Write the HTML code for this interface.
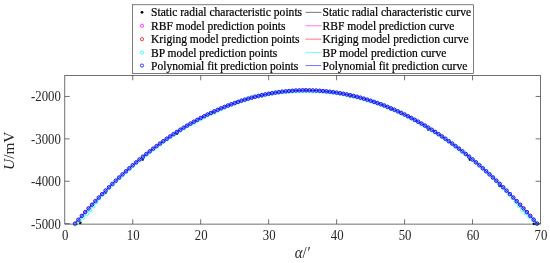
<!DOCTYPE html><html><head><meta charset="utf-8"><title>Plot</title><style>html,body{margin:0;padding:0;background:#fff}</style></head><body><svg width="550" height="263" viewBox="0 0 550 263" style="display:block;font-family:'Liberation Serif',serif">
<rect width="550" height="263" fill="#fff"/>
<clipPath id="c"><rect x="64.8" y="75.4" width="475.7" height="151.2"/></clipPath>
<g clip-path="url(#c)" fill="none">
<circle cx="80.23" cy="222.74" r="1.4" fill="#000"/>
<circle cx="105.57" cy="192.58" r="1.4" fill="#000"/>
<circle cx="142.68" cy="159.38" r="1.4" fill="#000"/>
<circle cx="176.93" cy="133.65" r="1.4" fill="#000"/>
<circle cx="214.31" cy="112.83" r="1.4" fill="#000"/>
<circle cx="261.88" cy="96.05" r="1.4" fill="#000"/>
<circle cx="305.37" cy="89.91" r="1.4" fill="#000"/>
<circle cx="350.22" cy="96.26" r="1.4" fill="#000"/>
<circle cx="390.99" cy="109.62" r="1.4" fill="#000"/>
<circle cx="428.37" cy="129.38" r="1.4" fill="#000"/>
<circle cx="469.96" cy="159.53" r="1.4" fill="#000"/>
<circle cx="499.73" cy="185.89" r="1.4" fill="#000"/>
<circle cx="533.98" cy="223.85" r="1.4" fill="#000"/>
<polyline points="74.99,223.62 78.39,219.72 81.79,215.89 85.19,212.11 88.58,208.40 91.98,204.74 95.38,201.13 98.78,197.59 102.18,194.10 105.57,190.67 108.97,187.30 112.37,183.98 115.77,180.72 119.17,177.53 122.56,174.38 125.96,171.30 129.36,168.27 132.76,165.30 136.15,162.39 139.55,159.54 142.95,156.74 146.35,154.00 149.75,151.32 153.14,148.70 156.54,146.14 159.94,143.63 163.34,141.18 166.74,138.79 170.13,136.45 173.53,134.17 176.93,131.95 180.33,129.79 183.72,127.69 187.12,125.64 190.52,123.65 193.92,121.72 197.32,119.85 200.71,118.03 204.11,116.27 207.51,114.57 210.91,112.93 214.31,111.34 217.70,109.82 221.10,108.35 224.50,106.93 227.90,105.58 231.29,104.28 234.69,103.04 238.09,101.86 241.49,100.74 244.89,99.67 248.28,98.66 251.68,97.71 255.08,96.82 258.48,95.98 261.88,95.20 265.27,94.48 268.67,93.82 272.07,93.21 275.47,92.67 278.87,92.18 282.26,91.74 285.66,91.37 289.06,91.05 292.46,90.79 295.85,90.59 299.25,90.45 302.65,90.36 306.05,90.33 309.45,90.36 312.84,90.45 316.24,90.59 319.64,90.79 323.04,91.05 326.44,91.37 329.83,91.74 333.23,92.18 336.63,92.67 340.03,93.21 343.42,93.82 346.82,94.48 350.22,95.20 353.62,95.98 357.02,96.82 360.41,97.71 363.81,98.66 367.21,99.67 370.61,100.74 374.00,101.86 377.40,103.04 380.80,104.28 384.20,105.58 387.60,106.93 390.99,108.35 394.39,109.82 397.79,111.34 401.19,112.93 404.59,114.57 407.98,116.27 411.38,118.03 414.78,119.85 418.18,121.72 421.57,123.65 424.97,125.64 428.37,127.69 431.77,129.79 435.17,131.95 438.56,134.17 441.96,136.45 445.36,138.79 448.76,141.18 452.16,143.63 455.55,146.14 458.95,148.70 462.35,151.32 465.75,154.00 469.14,156.74 472.54,159.54 475.94,162.39 479.34,165.30 482.74,168.27 486.13,171.30 489.53,174.38 492.93,177.53 496.33,180.72 499.73,183.98 503.12,187.30 506.52,190.67 509.92,194.10 513.32,197.59 516.71,201.13 520.11,204.74 523.51,208.40 526.91,212.11 530.31,215.89 533.70,219.72 537.10,223.62" stroke="#000" stroke-width="0.45"/>
<g stroke="#ff00ff" stroke-width="0.45" fill="none"><circle cx="75.00" cy="223.63" r="1.45"/><circle cx="78.41" cy="219.72" r="1.45"/><circle cx="81.80" cy="215.87" r="1.45"/><circle cx="85.20" cy="212.10" r="1.45"/><circle cx="88.57" cy="208.37" r="1.45"/><circle cx="92.00" cy="204.77" r="1.45"/><circle cx="95.40" cy="201.16" r="1.45"/><circle cx="98.76" cy="197.62" r="1.45"/><circle cx="102.13" cy="194.18" r="1.45"/><circle cx="105.53" cy="190.74" r="1.45"/><circle cx="108.93" cy="187.35" r="1.45"/><circle cx="112.31" cy="184.04" r="1.45"/><circle cx="115.71" cy="180.74" r="1.45"/><circle cx="119.15" cy="177.52" r="1.45"/><circle cx="122.52" cy="174.37" r="1.45"/><circle cx="125.93" cy="171.29" r="1.45"/><circle cx="129.34" cy="168.27" r="1.45"/><circle cx="132.76" cy="165.30" r="1.45"/><circle cx="136.17" cy="162.40" r="1.45"/><circle cx="139.54" cy="159.56" r="1.45"/><circle cx="142.94" cy="156.77" r="1.45"/><circle cx="146.34" cy="154.07" r="1.45"/><circle cx="149.68" cy="151.42" r="1.45"/><circle cx="153.06" cy="148.81" r="1.45"/><circle cx="156.45" cy="146.25" r="1.45"/><circle cx="159.88" cy="143.70" r="1.45"/><circle cx="163.26" cy="141.22" r="1.45"/><circle cx="166.59" cy="138.82" r="1.45"/><circle cx="170.02" cy="136.46" r="1.45"/><circle cx="173.42" cy="134.17" r="1.45"/><circle cx="176.80" cy="131.94" r="1.45"/><circle cx="180.24" cy="129.78" r="1.45"/><circle cx="183.64" cy="127.65" r="1.45"/><circle cx="187.04" cy="125.60" r="1.45"/><circle cx="190.42" cy="123.61" r="1.45"/><circle cx="193.77" cy="121.68" r="1.45"/><circle cx="197.20" cy="119.78" r="1.45"/><circle cx="200.60" cy="117.97" r="1.45"/><circle cx="204.03" cy="116.22" r="1.45"/><circle cx="207.48" cy="114.52" r="1.45"/><circle cx="210.91" cy="112.86" r="1.45"/><circle cx="214.35" cy="111.27" r="1.45"/><circle cx="217.74" cy="109.76" r="1.45"/><circle cx="221.16" cy="108.25" r="1.45"/><circle cx="224.56" cy="106.86" r="1.45"/><circle cx="227.95" cy="105.48" r="1.45"/><circle cx="231.29" cy="104.21" r="1.45"/><circle cx="234.70" cy="102.99" r="1.45"/><circle cx="238.10" cy="101.79" r="1.45"/><circle cx="241.47" cy="100.67" r="1.45"/><circle cx="244.87" cy="99.59" r="1.45"/><circle cx="248.28" cy="98.57" r="1.45"/><circle cx="251.66" cy="97.67" r="1.45"/><circle cx="255.10" cy="96.77" r="1.45"/><circle cx="258.49" cy="95.98" r="1.45"/><circle cx="261.93" cy="95.17" r="1.45"/><circle cx="265.35" cy="94.45" r="1.45"/><circle cx="268.70" cy="93.78" r="1.45"/><circle cx="272.12" cy="93.23" r="1.45"/><circle cx="275.48" cy="92.69" r="1.45"/><circle cx="278.93" cy="92.18" r="1.45"/><circle cx="282.33" cy="91.74" r="1.45"/><circle cx="285.74" cy="91.35" r="1.45"/><circle cx="289.17" cy="91.00" r="1.45"/><circle cx="292.56" cy="90.78" r="1.45"/><circle cx="295.90" cy="90.57" r="1.45"/><circle cx="299.34" cy="90.40" r="1.45"/><circle cx="302.69" cy="90.26" r="1.45"/><circle cx="306.10" cy="90.23" r="1.45"/><circle cx="309.48" cy="90.27" r="1.45"/><circle cx="312.85" cy="90.35" r="1.45"/><circle cx="316.24" cy="90.54" r="1.45"/><circle cx="319.64" cy="90.76" r="1.45"/><circle cx="323.04" cy="90.97" r="1.45"/><circle cx="326.44" cy="91.27" r="1.45"/><circle cx="329.76" cy="91.69" r="1.45"/><circle cx="333.16" cy="92.10" r="1.45"/><circle cx="336.54" cy="92.56" r="1.45"/><circle cx="339.92" cy="93.09" r="1.45"/><circle cx="343.32" cy="93.66" r="1.45"/><circle cx="346.72" cy="94.28" r="1.45"/><circle cx="350.08" cy="94.99" r="1.45"/><circle cx="353.48" cy="95.78" r="1.45"/><circle cx="356.91" cy="96.68" r="1.45"/><circle cx="360.34" cy="97.60" r="1.45"/><circle cx="363.76" cy="98.57" r="1.45"/><circle cx="367.21" cy="99.63" r="1.45"/><circle cx="370.63" cy="100.71" r="1.45"/><circle cx="374.02" cy="101.89" r="1.45"/><circle cx="377.41" cy="103.10" r="1.45"/><circle cx="380.83" cy="104.29" r="1.45"/><circle cx="384.26" cy="105.61" r="1.45"/><circle cx="387.64" cy="106.92" r="1.45"/><circle cx="391.05" cy="108.30" r="1.45"/><circle cx="394.44" cy="109.78" r="1.45"/><circle cx="397.81" cy="111.27" r="1.45"/><circle cx="401.19" cy="112.85" r="1.45"/><circle cx="404.61" cy="114.45" r="1.45"/><circle cx="408.00" cy="116.16" r="1.45"/><circle cx="411.38" cy="117.96" r="1.45"/><circle cx="414.77" cy="119.78" r="1.45"/><circle cx="418.15" cy="121.68" r="1.45"/><circle cx="421.57" cy="123.61" r="1.45"/><circle cx="425.00" cy="125.62" r="1.45"/><circle cx="428.39" cy="127.65" r="1.45"/><circle cx="431.77" cy="129.75" r="1.45"/><circle cx="435.20" cy="131.93" r="1.45"/><circle cx="438.59" cy="134.12" r="1.45"/><circle cx="442.00" cy="136.39" r="1.45"/><circle cx="445.37" cy="138.77" r="1.45"/><circle cx="448.75" cy="141.14" r="1.45"/><circle cx="452.14" cy="143.62" r="1.45"/><circle cx="455.53" cy="146.10" r="1.45"/><circle cx="458.92" cy="148.70" r="1.45"/><circle cx="462.34" cy="151.32" r="1.45"/><circle cx="465.69" cy="154.03" r="1.45"/><circle cx="469.09" cy="156.74" r="1.45"/><circle cx="472.48" cy="159.51" r="1.45"/><circle cx="475.93" cy="162.33" r="1.45"/><circle cx="479.38" cy="165.24" r="1.45"/><circle cx="482.76" cy="168.19" r="1.45"/><circle cx="486.16" cy="171.20" r="1.45"/><circle cx="489.55" cy="174.25" r="1.45"/><circle cx="492.94" cy="177.42" r="1.45"/><circle cx="496.36" cy="180.62" r="1.45"/><circle cx="499.76" cy="183.93" r="1.45"/><circle cx="503.13" cy="187.31" r="1.45"/><circle cx="506.48" cy="190.71" r="1.45"/><circle cx="509.86" cy="194.13" r="1.45"/><circle cx="513.27" cy="197.65" r="1.45"/><circle cx="516.68" cy="201.19" r="1.45"/><circle cx="520.07" cy="204.81" r="1.45"/><circle cx="523.50" cy="208.47" r="1.45"/><circle cx="526.88" cy="212.20" r="1.45"/><circle cx="530.29" cy="215.96" r="1.45"/><circle cx="533.74" cy="219.75" r="1.45"/><circle cx="537.16" cy="223.63" r="1.45"/><polyline points="75.00,223.63 78.41,219.72 81.80,215.87 85.20,212.10 88.57,208.37 92.00,204.77 95.40,201.16 98.76,197.62 102.13,194.18 105.53,190.74 108.93,187.35 112.31,184.04 115.71,180.74 119.15,177.52 122.52,174.37 125.93,171.29 129.34,168.27 132.76,165.30 136.17,162.40 139.54,159.56 142.94,156.77 146.34,154.07 149.68,151.42 153.06,148.81 156.45,146.25 159.88,143.70 163.26,141.22 166.59,138.82 170.02,136.46 173.42,134.17 176.80,131.94 180.24,129.78 183.64,127.65 187.04,125.60 190.42,123.61 193.77,121.68 197.20,119.78 200.60,117.97 204.03,116.22 207.48,114.52 210.91,112.86 214.35,111.27 217.74,109.76 221.16,108.25 224.56,106.86 227.95,105.48 231.29,104.21 234.70,102.99 238.10,101.79 241.47,100.67 244.87,99.59 248.28,98.57 251.66,97.67 255.10,96.77 258.49,95.98 261.93,95.17 265.35,94.45 268.70,93.78 272.12,93.23 275.48,92.69 278.93,92.18 282.33,91.74 285.74,91.35 289.17,91.00 292.56,90.78 295.90,90.57 299.34,90.40 302.69,90.26 306.10,90.23 309.48,90.27 312.85,90.35 316.24,90.54 319.64,90.76 323.04,90.97 326.44,91.27 329.76,91.69 333.16,92.10 336.54,92.56 339.92,93.09 343.32,93.66 346.72,94.28 350.08,94.99 353.48,95.78 356.91,96.68 360.34,97.60 363.76,98.57 367.21,99.63 370.63,100.71 374.02,101.89 377.41,103.10 380.83,104.29 384.26,105.61 387.64,106.92 391.05,108.30 394.44,109.78 397.81,111.27 401.19,112.85 404.61,114.45 408.00,116.16 411.38,117.96 414.77,119.78 418.15,121.68 421.57,123.61 425.00,125.62 428.39,127.65 431.77,129.75 435.20,131.93 438.59,134.12 442.00,136.39 445.37,138.77 448.75,141.14 452.14,143.62 455.53,146.10 458.92,148.70 462.34,151.32 465.69,154.03 469.09,156.74 472.48,159.51 475.93,162.33 479.38,165.24 482.76,168.19 486.16,171.20 489.55,174.25 492.94,177.42 496.36,180.62 499.76,183.93 503.13,187.31 506.48,190.71 509.86,194.13 513.27,197.65 516.68,201.19 520.07,204.81 523.50,208.47 526.88,212.20 530.29,215.96 533.74,219.75 537.16,223.63" fill="none" stroke-width="0.4"/></g>
<g stroke="#ff0000" stroke-width="0.5" fill="none"><circle cx="74.97" cy="223.62" r="1.5"/><circle cx="78.39" cy="219.69" r="1.5"/><circle cx="81.74" cy="215.87" r="1.5"/><circle cx="85.16" cy="212.00" r="1.5"/><circle cx="88.58" cy="208.21" r="1.5"/><circle cx="92.01" cy="204.53" r="1.5"/><circle cx="95.38" cy="200.97" r="1.5"/><circle cx="98.79" cy="197.54" r="1.5"/><circle cx="102.14" cy="194.00" r="1.5"/><circle cx="105.53" cy="190.44" r="1.5"/><circle cx="108.99" cy="187.14" r="1.5"/><circle cx="112.42" cy="183.77" r="1.5"/><circle cx="115.78" cy="180.50" r="1.5"/><circle cx="119.16" cy="177.38" r="1.5"/><circle cx="122.55" cy="174.19" r="1.5"/><circle cx="125.94" cy="171.10" r="1.5"/><circle cx="129.30" cy="168.04" r="1.5"/><circle cx="132.73" cy="165.05" r="1.5"/><circle cx="136.08" cy="162.18" r="1.5"/><circle cx="139.46" cy="159.29" r="1.5"/><circle cx="142.90" cy="156.45" r="1.5"/><circle cx="146.36" cy="153.88" r="1.5"/><circle cx="149.73" cy="151.05" r="1.5"/><circle cx="153.14" cy="148.56" r="1.5"/><circle cx="156.48" cy="145.96" r="1.5"/><circle cx="159.90" cy="143.42" r="1.5"/><circle cx="163.29" cy="141.01" r="1.5"/><circle cx="166.71" cy="138.59" r="1.5"/><circle cx="170.10" cy="136.27" r="1.5"/><circle cx="173.47" cy="133.99" r="1.5"/><circle cx="176.86" cy="131.69" r="1.5"/><circle cx="180.29" cy="129.65" r="1.5"/><circle cx="183.69" cy="127.52" r="1.5"/><circle cx="187.10" cy="125.54" r="1.5"/><circle cx="190.47" cy="123.57" r="1.5"/><circle cx="193.86" cy="121.61" r="1.5"/><circle cx="197.29" cy="119.79" r="1.5"/><circle cx="200.68" cy="117.88" r="1.5"/><circle cx="204.10" cy="116.14" r="1.5"/><circle cx="207.47" cy="114.47" r="1.5"/><circle cx="210.86" cy="112.89" r="1.5"/><circle cx="214.25" cy="111.33" r="1.5"/><circle cx="217.69" cy="109.74" r="1.5"/><circle cx="221.12" cy="108.23" r="1.5"/><circle cx="224.51" cy="106.90" r="1.5"/><circle cx="227.93" cy="105.49" r="1.5"/><circle cx="231.32" cy="104.34" r="1.5"/><circle cx="234.71" cy="103.18" r="1.5"/><circle cx="238.13" cy="101.94" r="1.5"/><circle cx="241.56" cy="100.61" r="1.5"/><circle cx="244.92" cy="99.49" r="1.5"/><circle cx="248.34" cy="98.55" r="1.5"/><circle cx="251.72" cy="97.57" r="1.5"/><circle cx="255.13" cy="96.60" r="1.5"/><circle cx="258.52" cy="95.76" r="1.5"/><circle cx="261.91" cy="94.92" r="1.5"/><circle cx="265.26" cy="94.17" r="1.5"/><circle cx="268.64" cy="93.51" r="1.5"/><circle cx="272.01" cy="93.00" r="1.5"/><circle cx="275.40" cy="92.39" r="1.5"/><circle cx="278.79" cy="91.74" r="1.5"/><circle cx="282.17" cy="91.38" r="1.5"/><circle cx="285.54" cy="91.06" r="1.5"/><circle cx="288.91" cy="90.80" r="1.5"/><circle cx="292.34" cy="90.53" r="1.5"/><circle cx="295.75" cy="90.26" r="1.5"/><circle cx="299.15" cy="90.10" r="1.5"/><circle cx="302.55" cy="90.02" r="1.5"/><circle cx="305.98" cy="90.01" r="1.5"/><circle cx="309.32" cy="90.15" r="1.5"/><circle cx="312.73" cy="90.25" r="1.5"/><circle cx="316.16" cy="90.45" r="1.5"/><circle cx="319.58" cy="90.70" r="1.5"/><circle cx="323.01" cy="91.00" r="1.5"/><circle cx="326.43" cy="91.43" r="1.5"/><circle cx="329.84" cy="91.80" r="1.5"/><circle cx="333.22" cy="92.24" r="1.5"/><circle cx="336.63" cy="92.81" r="1.5"/><circle cx="340.09" cy="93.40" r="1.5"/><circle cx="343.52" cy="94.03" r="1.5"/><circle cx="346.90" cy="94.66" r="1.5"/><circle cx="350.28" cy="95.24" r="1.5"/><circle cx="353.66" cy="96.07" r="1.5"/><circle cx="357.08" cy="96.81" r="1.5"/><circle cx="360.48" cy="97.70" r="1.5"/><circle cx="363.89" cy="98.65" r="1.5"/><circle cx="367.27" cy="99.65" r="1.5"/><circle cx="370.64" cy="100.64" r="1.5"/><circle cx="374.01" cy="101.74" r="1.5"/><circle cx="377.44" cy="102.85" r="1.5"/><circle cx="380.85" cy="104.11" r="1.5"/><circle cx="384.25" cy="105.34" r="1.5"/><circle cx="387.63" cy="106.75" r="1.5"/><circle cx="391.02" cy="108.19" r="1.5"/><circle cx="394.43" cy="109.62" r="1.5"/><circle cx="397.84" cy="111.06" r="1.5"/><circle cx="401.24" cy="112.65" r="1.5"/><circle cx="404.67" cy="114.27" r="1.5"/><circle cx="408.06" cy="116.06" r="1.5"/><circle cx="411.40" cy="117.88" r="1.5"/><circle cx="414.78" cy="119.62" r="1.5"/><circle cx="418.14" cy="121.51" r="1.5"/><circle cx="421.52" cy="123.44" r="1.5"/><circle cx="424.89" cy="125.46" r="1.5"/><circle cx="428.31" cy="127.52" r="1.5"/><circle cx="431.74" cy="129.71" r="1.5"/><circle cx="435.11" cy="131.81" r="1.5"/><circle cx="438.53" cy="134.04" r="1.5"/><circle cx="441.98" cy="136.35" r="1.5"/><circle cx="445.36" cy="138.71" r="1.5"/><circle cx="448.77" cy="140.97" r="1.5"/><circle cx="452.20" cy="143.25" r="1.5"/><circle cx="455.62" cy="145.76" r="1.5"/><circle cx="458.97" cy="148.36" r="1.5"/><circle cx="462.32" cy="150.88" r="1.5"/><circle cx="465.75" cy="153.66" r="1.5"/><circle cx="469.15" cy="156.30" r="1.5"/><circle cx="472.56" cy="159.13" r="1.5"/><circle cx="475.98" cy="161.90" r="1.5"/><circle cx="479.41" cy="164.82" r="1.5"/><circle cx="482.82" cy="167.93" r="1.5"/><circle cx="486.19" cy="171.01" r="1.5"/><circle cx="489.64" cy="174.03" r="1.5"/><circle cx="493.03" cy="177.21" r="1.5"/><circle cx="496.42" cy="180.34" r="1.5"/><circle cx="499.79" cy="183.60" r="1.5"/><circle cx="503.18" cy="186.94" r="1.5"/><circle cx="506.59" cy="190.37" r="1.5"/><circle cx="509.94" cy="193.83" r="1.5"/><circle cx="513.35" cy="197.32" r="1.5"/><circle cx="516.78" cy="200.82" r="1.5"/><circle cx="520.15" cy="204.56" r="1.5"/><circle cx="523.58" cy="208.20" r="1.5"/><circle cx="526.96" cy="211.91" r="1.5"/><circle cx="530.35" cy="215.72" r="1.5"/><circle cx="533.71" cy="219.49" r="1.5"/><circle cx="537.08" cy="223.36" r="1.5"/><polyline points="74.97,223.62 78.39,219.69 81.74,215.87 85.16,212.00 88.58,208.21 92.01,204.53 95.38,200.97 98.79,197.54 102.14,194.00 105.53,190.44 108.99,187.14 112.42,183.77 115.78,180.50 119.16,177.38 122.55,174.19 125.94,171.10 129.30,168.04 132.73,165.05 136.08,162.18 139.46,159.29 142.90,156.45 146.36,153.88 149.73,151.05 153.14,148.56 156.48,145.96 159.90,143.42 163.29,141.01 166.71,138.59 170.10,136.27 173.47,133.99 176.86,131.69 180.29,129.65 183.69,127.52 187.10,125.54 190.47,123.57 193.86,121.61 197.29,119.79 200.68,117.88 204.10,116.14 207.47,114.47 210.86,112.89 214.25,111.33 217.69,109.74 221.12,108.23 224.51,106.90 227.93,105.49 231.32,104.34 234.71,103.18 238.13,101.94 241.56,100.61 244.92,99.49 248.34,98.55 251.72,97.57 255.13,96.60 258.52,95.76 261.91,94.92 265.26,94.17 268.64,93.51 272.01,93.00 275.40,92.39 278.79,91.74 282.17,91.38 285.54,91.06 288.91,90.80 292.34,90.53 295.75,90.26 299.15,90.10 302.55,90.02 305.98,90.01 309.32,90.15 312.73,90.25 316.16,90.45 319.58,90.70 323.01,91.00 326.43,91.43 329.84,91.80 333.22,92.24 336.63,92.81 340.09,93.40 343.52,94.03 346.90,94.66 350.28,95.24 353.66,96.07 357.08,96.81 360.48,97.70 363.89,98.65 367.27,99.65 370.64,100.64 374.01,101.74 377.44,102.85 380.85,104.11 384.25,105.34 387.63,106.75 391.02,108.19 394.43,109.62 397.84,111.06 401.24,112.65 404.67,114.27 408.06,116.06 411.40,117.88 414.78,119.62 418.14,121.51 421.52,123.44 424.89,125.46 428.31,127.52 431.74,129.71 435.11,131.81 438.53,134.04 441.98,136.35 445.36,138.71 448.77,140.97 452.20,143.25 455.62,145.76 458.97,148.36 462.32,150.88 465.75,153.66 469.15,156.30 472.56,159.13 475.98,161.90 479.41,164.82 482.82,167.93 486.19,171.01 489.64,174.03 493.03,177.21 496.42,180.34 499.79,183.60 503.18,186.94 506.59,190.37 509.94,193.83 513.35,197.32 516.78,200.82 520.15,204.56 523.58,208.20 526.96,211.91 530.35,215.72 533.71,219.49 537.08,223.36" fill="none" stroke-width="0.4"/></g>
<g stroke="#00ffff" stroke-width="0.7" fill="none"><circle cx="75.47" cy="224.12" r="1.95"/><circle cx="79.19" cy="220.48" r="1.95"/><circle cx="83.04" cy="217.21" r="1.95"/><circle cx="86.68" cy="213.64" r="1.95"/><circle cx="90.08" cy="209.83" r="1.95"/><circle cx="93.12" cy="205.98" r="1.95"/><circle cx="96.12" cy="202.00" r="1.95"/><circle cx="99.17" cy="198.10" r="1.95"/><circle cx="102.42" cy="194.47" r="1.95"/><circle cx="105.66" cy="190.96" r="1.95"/><circle cx="109.00" cy="187.73" r="1.95"/><circle cx="112.32" cy="184.27" r="1.95"/><circle cx="115.68" cy="181.10" r="1.95"/><circle cx="119.02" cy="178.04" r="1.95"/><circle cx="122.45" cy="174.78" r="1.95"/><circle cx="125.90" cy="171.83" r="1.95"/><circle cx="129.22" cy="168.75" r="1.95"/><circle cx="132.57" cy="165.73" r="1.95"/><circle cx="136.05" cy="162.75" r="1.95"/><circle cx="139.51" cy="159.78" r="1.95"/><circle cx="142.90" cy="157.14" r="1.95"/><circle cx="146.40" cy="154.47" r="1.95"/><circle cx="149.88" cy="151.60" r="1.95"/><circle cx="153.25" cy="149.06" r="1.95"/><circle cx="156.65" cy="146.40" r="1.95"/><circle cx="160.07" cy="143.85" r="1.95"/><circle cx="163.49" cy="141.48" r="1.95"/><circle cx="166.81" cy="139.14" r="1.95"/><circle cx="170.20" cy="136.81" r="1.95"/><circle cx="173.59" cy="134.46" r="1.95"/><circle cx="176.95" cy="132.18" r="1.95"/><circle cx="180.35" cy="130.16" r="1.95"/><circle cx="183.80" cy="127.93" r="1.95"/><circle cx="187.16" cy="125.80" r="1.95"/><circle cx="190.64" cy="124.12" r="1.95"/><circle cx="193.94" cy="122.29" r="1.95"/><circle cx="197.40" cy="120.37" r="1.95"/><circle cx="200.78" cy="118.55" r="1.95"/><circle cx="204.22" cy="116.81" r="1.95"/><circle cx="207.61" cy="114.96" r="1.95"/><circle cx="211.11" cy="113.40" r="1.95"/><circle cx="214.49" cy="111.82" r="1.95"/><circle cx="217.92" cy="110.34" r="1.95"/><circle cx="221.28" cy="108.63" r="1.95"/><circle cx="224.80" cy="107.06" r="1.95"/><circle cx="228.11" cy="105.67" r="1.95"/><circle cx="231.55" cy="104.38" r="1.95"/><circle cx="234.91" cy="103.16" r="1.95"/><circle cx="238.20" cy="101.99" r="1.95"/><circle cx="241.43" cy="100.73" r="1.95"/><circle cx="244.82" cy="99.84" r="1.95"/><circle cx="248.19" cy="98.74" r="1.95"/><circle cx="251.58" cy="97.75" r="1.95"/><circle cx="254.96" cy="96.77" r="1.95"/><circle cx="258.42" cy="95.99" r="1.95"/><circle cx="261.76" cy="95.17" r="1.95"/><circle cx="265.11" cy="94.44" r="1.95"/><circle cx="268.60" cy="93.89" r="1.95"/><circle cx="272.07" cy="93.30" r="1.95"/><circle cx="275.46" cy="92.65" r="1.95"/><circle cx="278.79" cy="92.30" r="1.95"/><circle cx="282.14" cy="91.82" r="1.95"/><circle cx="285.57" cy="91.66" r="1.95"/><circle cx="288.94" cy="91.40" r="1.95"/><circle cx="292.32" cy="91.21" r="1.95"/><circle cx="295.77" cy="90.90" r="1.95"/><circle cx="299.17" cy="90.70" r="1.95"/><circle cx="302.51" cy="90.64" r="1.95"/><circle cx="305.89" cy="90.69" r="1.95"/><circle cx="309.30" cy="90.73" r="1.95"/><circle cx="312.75" cy="91.03" r="1.95"/><circle cx="316.12" cy="90.99" r="1.95"/><circle cx="319.53" cy="91.09" r="1.95"/><circle cx="322.99" cy="91.24" r="1.95"/><circle cx="326.42" cy="91.69" r="1.95"/><circle cx="329.80" cy="91.87" r="1.95"/><circle cx="333.22" cy="92.35" r="1.95"/><circle cx="336.65" cy="92.92" r="1.95"/><circle cx="340.14" cy="93.44" r="1.95"/><circle cx="343.56" cy="93.94" r="1.95"/><circle cx="346.90" cy="94.62" r="1.95"/><circle cx="350.31" cy="95.46" r="1.95"/><circle cx="353.67" cy="96.26" r="1.95"/><circle cx="357.08" cy="96.94" r="1.95"/><circle cx="360.48" cy="98.06" r="1.95"/><circle cx="363.88" cy="99.00" r="1.95"/><circle cx="367.23" cy="99.98" r="1.95"/><circle cx="370.61" cy="101.01" r="1.95"/><circle cx="374.03" cy="102.08" r="1.95"/><circle cx="377.40" cy="103.27" r="1.95"/><circle cx="380.85" cy="104.38" r="1.95"/><circle cx="384.26" cy="105.62" r="1.95"/><circle cx="387.64" cy="107.08" r="1.95"/><circle cx="390.97" cy="108.37" r="1.95"/><circle cx="394.39" cy="109.85" r="1.95"/><circle cx="397.80" cy="111.32" r="1.95"/><circle cx="401.17" cy="112.90" r="1.95"/><circle cx="404.54" cy="114.66" r="1.95"/><circle cx="407.95" cy="116.38" r="1.95"/><circle cx="411.26" cy="118.10" r="1.95"/><circle cx="414.60" cy="119.98" r="1.95"/><circle cx="418.00" cy="121.92" r="1.95"/><circle cx="421.49" cy="123.96" r="1.95"/><circle cx="424.86" cy="125.79" r="1.95"/><circle cx="428.31" cy="127.84" r="1.95"/><circle cx="431.71" cy="129.96" r="1.95"/><circle cx="435.09" cy="132.08" r="1.95"/><circle cx="438.50" cy="134.33" r="1.95"/><circle cx="442.01" cy="136.63" r="1.95"/><circle cx="445.45" cy="139.03" r="1.95"/><circle cx="448.78" cy="141.47" r="1.95"/><circle cx="452.12" cy="143.77" r="1.95"/><circle cx="455.56" cy="146.35" r="1.95"/><circle cx="458.90" cy="148.81" r="1.95"/><circle cx="462.29" cy="151.44" r="1.95"/><circle cx="465.70" cy="154.05" r="1.95"/><circle cx="469.08" cy="156.71" r="1.95"/><circle cx="472.45" cy="159.49" r="1.95"/><circle cx="475.90" cy="162.32" r="1.95"/><circle cx="479.34" cy="165.16" r="1.95"/><circle cx="482.81" cy="168.20" r="1.95"/><circle cx="486.12" cy="171.23" r="1.95"/><circle cx="489.53" cy="174.32" r="1.95"/><circle cx="492.95" cy="177.51" r="1.95"/><circle cx="496.35" cy="180.93" r="1.95"/><circle cx="499.76" cy="184.24" r="1.95"/><circle cx="503.15" cy="187.60" r="1.95"/><circle cx="506.42" cy="190.93" r="1.95"/><circle cx="509.75" cy="194.28" r="1.95"/><circle cx="512.89" cy="197.91" r="1.95"/><circle cx="516.03" cy="201.82" r="1.95"/><circle cx="519.10" cy="205.77" r="1.95"/><circle cx="522.29" cy="209.61" r="1.95"/><circle cx="525.74" cy="212.98" r="1.95"/><circle cx="529.51" cy="216.43" r="1.95"/><circle cx="533.26" cy="219.92" r="1.95"/><circle cx="536.89" cy="223.61" r="1.95"/><polyline points="75.47,224.12 79.19,220.48 83.04,217.21 86.68,213.64 90.08,209.83 93.12,205.98 96.12,202.00 99.17,198.10 102.42,194.47 105.66,190.96 109.00,187.73 112.32,184.27 115.68,181.10 119.02,178.04 122.45,174.78 125.90,171.83 129.22,168.75 132.57,165.73 136.05,162.75 139.51,159.78 142.90,157.14 146.40,154.47 149.88,151.60 153.25,149.06 156.65,146.40 160.07,143.85 163.49,141.48 166.81,139.14 170.20,136.81 173.59,134.46 176.95,132.18 180.35,130.16 183.80,127.93 187.16,125.80 190.64,124.12 193.94,122.29 197.40,120.37 200.78,118.55 204.22,116.81 207.61,114.96 211.11,113.40 214.49,111.82 217.92,110.34 221.28,108.63 224.80,107.06 228.11,105.67 231.55,104.38 234.91,103.16 238.20,101.99 241.43,100.73 244.82,99.84 248.19,98.74 251.58,97.75 254.96,96.77 258.42,95.99 261.76,95.17 265.11,94.44 268.60,93.89 272.07,93.30 275.46,92.65 278.79,92.30 282.14,91.82 285.57,91.66 288.94,91.40 292.32,91.21 295.77,90.90 299.17,90.70 302.51,90.64 305.89,90.69 309.30,90.73 312.75,91.03 316.12,90.99 319.53,91.09 322.99,91.24 326.42,91.69 329.80,91.87 333.22,92.35 336.65,92.92 340.14,93.44 343.56,93.94 346.90,94.62 350.31,95.46 353.67,96.26 357.08,96.94 360.48,98.06 363.88,99.00 367.23,99.98 370.61,101.01 374.03,102.08 377.40,103.27 380.85,104.38 384.26,105.62 387.64,107.08 390.97,108.37 394.39,109.85 397.80,111.32 401.17,112.90 404.54,114.66 407.95,116.38 411.26,118.10 414.60,119.98 418.00,121.92 421.49,123.96 424.86,125.79 428.31,127.84 431.71,129.96 435.09,132.08 438.50,134.33 442.01,136.63 445.45,139.03 448.78,141.47 452.12,143.77 455.56,146.35 458.90,148.81 462.29,151.44 465.70,154.05 469.08,156.71 472.45,159.49 475.90,162.32 479.34,165.16 482.81,168.20 486.12,171.23 489.53,174.32 492.95,177.51 496.35,180.93 499.76,184.24 503.15,187.60 506.42,190.93 509.75,194.28 512.89,197.91 516.03,201.82 519.10,205.77 522.29,209.61 525.74,212.98 529.51,216.43 533.26,219.92 536.89,223.61" fill="none" stroke-width="0.4"/></g>
<g stroke="#fff" stroke-width="0.8" fill="#fff" opacity="0.55"><circle cx="74.99" cy="223.62" r="1.75"/><circle cx="78.39" cy="219.72" r="1.75"/><circle cx="81.79" cy="215.89" r="1.75"/><circle cx="85.19" cy="212.11" r="1.75"/><circle cx="88.58" cy="208.40" r="1.75"/><circle cx="91.98" cy="204.74" r="1.75"/><circle cx="95.38" cy="201.13" r="1.75"/><circle cx="98.78" cy="197.59" r="1.75"/><circle cx="102.18" cy="194.10" r="1.75"/><circle cx="105.57" cy="190.67" r="1.75"/><circle cx="108.97" cy="187.30" r="1.75"/><circle cx="112.37" cy="183.98" r="1.75"/><circle cx="115.77" cy="180.72" r="1.75"/><circle cx="119.17" cy="177.53" r="1.75"/><circle cx="122.56" cy="174.38" r="1.75"/><circle cx="125.96" cy="171.30" r="1.75"/><circle cx="129.36" cy="168.27" r="1.75"/><circle cx="132.76" cy="165.30" r="1.75"/><circle cx="136.15" cy="162.39" r="1.75"/><circle cx="139.55" cy="159.54" r="1.75"/><circle cx="142.95" cy="156.74" r="1.75"/><circle cx="146.35" cy="154.00" r="1.75"/><circle cx="149.75" cy="151.32" r="1.75"/><circle cx="153.14" cy="148.70" r="1.75"/><circle cx="156.54" cy="146.14" r="1.75"/><circle cx="159.94" cy="143.63" r="1.75"/><circle cx="163.34" cy="141.18" r="1.75"/><circle cx="166.74" cy="138.79" r="1.75"/><circle cx="170.13" cy="136.45" r="1.75"/><circle cx="173.53" cy="134.17" r="1.75"/><circle cx="176.93" cy="131.95" r="1.75"/><circle cx="180.33" cy="129.79" r="1.75"/><circle cx="183.72" cy="127.69" r="1.75"/><circle cx="187.12" cy="125.64" r="1.75"/><circle cx="190.52" cy="123.65" r="1.75"/><circle cx="193.92" cy="121.72" r="1.75"/><circle cx="197.32" cy="119.85" r="1.75"/><circle cx="200.71" cy="118.03" r="1.75"/><circle cx="204.11" cy="116.27" r="1.75"/><circle cx="207.51" cy="114.57" r="1.75"/><circle cx="210.91" cy="112.93" r="1.75"/><circle cx="214.31" cy="111.34" r="1.75"/><circle cx="217.70" cy="109.82" r="1.75"/><circle cx="221.10" cy="108.35" r="1.75"/><circle cx="224.50" cy="106.93" r="1.75"/><circle cx="227.90" cy="105.58" r="1.75"/><circle cx="231.29" cy="104.28" r="1.75"/><circle cx="234.69" cy="103.04" r="1.75"/><circle cx="238.09" cy="101.86" r="1.75"/><circle cx="241.49" cy="100.74" r="1.75"/><circle cx="244.89" cy="99.67" r="1.75"/><circle cx="248.28" cy="98.66" r="1.75"/><circle cx="251.68" cy="97.71" r="1.75"/><circle cx="255.08" cy="96.82" r="1.75"/><circle cx="258.48" cy="95.98" r="1.75"/><circle cx="261.88" cy="95.20" r="1.75"/><circle cx="265.27" cy="94.48" r="1.75"/><circle cx="268.67" cy="93.82" r="1.75"/><circle cx="272.07" cy="93.21" r="1.75"/><circle cx="275.47" cy="92.67" r="1.75"/><circle cx="278.87" cy="92.18" r="1.75"/><circle cx="282.26" cy="91.74" r="1.75"/><circle cx="285.66" cy="91.37" r="1.75"/><circle cx="289.06" cy="91.05" r="1.75"/><circle cx="292.46" cy="90.79" r="1.75"/><circle cx="295.85" cy="90.59" r="1.75"/><circle cx="299.25" cy="90.45" r="1.75"/><circle cx="302.65" cy="90.36" r="1.75"/><circle cx="306.05" cy="90.33" r="1.75"/><circle cx="309.45" cy="90.36" r="1.75"/><circle cx="312.84" cy="90.45" r="1.75"/><circle cx="316.24" cy="90.59" r="1.75"/><circle cx="319.64" cy="90.79" r="1.75"/><circle cx="323.04" cy="91.05" r="1.75"/><circle cx="326.44" cy="91.37" r="1.75"/><circle cx="329.83" cy="91.74" r="1.75"/><circle cx="333.23" cy="92.18" r="1.75"/><circle cx="336.63" cy="92.67" r="1.75"/><circle cx="340.03" cy="93.21" r="1.75"/><circle cx="343.42" cy="93.82" r="1.75"/><circle cx="346.82" cy="94.48" r="1.75"/><circle cx="350.22" cy="95.20" r="1.75"/><circle cx="353.62" cy="95.98" r="1.75"/><circle cx="357.02" cy="96.82" r="1.75"/><circle cx="360.41" cy="97.71" r="1.75"/><circle cx="363.81" cy="98.66" r="1.75"/><circle cx="367.21" cy="99.67" r="1.75"/><circle cx="370.61" cy="100.74" r="1.75"/><circle cx="374.00" cy="101.86" r="1.75"/><circle cx="377.40" cy="103.04" r="1.75"/><circle cx="380.80" cy="104.28" r="1.75"/><circle cx="384.20" cy="105.58" r="1.75"/><circle cx="387.60" cy="106.93" r="1.75"/><circle cx="390.99" cy="108.35" r="1.75"/><circle cx="394.39" cy="109.82" r="1.75"/><circle cx="397.79" cy="111.34" r="1.75"/><circle cx="401.19" cy="112.93" r="1.75"/><circle cx="404.59" cy="114.57" r="1.75"/><circle cx="407.98" cy="116.27" r="1.75"/><circle cx="411.38" cy="118.03" r="1.75"/><circle cx="414.78" cy="119.85" r="1.75"/><circle cx="418.18" cy="121.72" r="1.75"/><circle cx="421.57" cy="123.65" r="1.75"/><circle cx="424.97" cy="125.64" r="1.75"/><circle cx="428.37" cy="127.69" r="1.75"/><circle cx="431.77" cy="129.79" r="1.75"/><circle cx="435.17" cy="131.95" r="1.75"/><circle cx="438.56" cy="134.17" r="1.75"/><circle cx="441.96" cy="136.45" r="1.75"/><circle cx="445.36" cy="138.79" r="1.75"/><circle cx="448.76" cy="141.18" r="1.75"/><circle cx="452.16" cy="143.63" r="1.75"/><circle cx="455.55" cy="146.14" r="1.75"/><circle cx="458.95" cy="148.70" r="1.75"/><circle cx="462.35" cy="151.32" r="1.75"/><circle cx="465.75" cy="154.00" r="1.75"/><circle cx="469.14" cy="156.74" r="1.75"/><circle cx="472.54" cy="159.54" r="1.75"/><circle cx="475.94" cy="162.39" r="1.75"/><circle cx="479.34" cy="165.30" r="1.75"/><circle cx="482.74" cy="168.27" r="1.75"/><circle cx="486.13" cy="171.30" r="1.75"/><circle cx="489.53" cy="174.38" r="1.75"/><circle cx="492.93" cy="177.53" r="1.75"/><circle cx="496.33" cy="180.72" r="1.75"/><circle cx="499.73" cy="183.98" r="1.75"/><circle cx="503.12" cy="187.30" r="1.75"/><circle cx="506.52" cy="190.67" r="1.75"/><circle cx="509.92" cy="194.10" r="1.75"/><circle cx="513.32" cy="197.59" r="1.75"/><circle cx="516.71" cy="201.13" r="1.75"/><circle cx="520.11" cy="204.74" r="1.75"/><circle cx="523.51" cy="208.40" r="1.75"/><circle cx="526.91" cy="212.11" r="1.75"/><circle cx="530.31" cy="215.89" r="1.75"/><circle cx="533.70" cy="219.72" r="1.75"/><circle cx="537.10" cy="223.62" r="1.75"/><polyline points="74.99,223.62 78.39,219.72 81.79,215.89 85.19,212.11 88.58,208.40 91.98,204.74 95.38,201.13 98.78,197.59 102.18,194.10 105.57,190.67 108.97,187.30 112.37,183.98 115.77,180.72 119.17,177.53 122.56,174.38 125.96,171.30 129.36,168.27 132.76,165.30 136.15,162.39 139.55,159.54 142.95,156.74 146.35,154.00 149.75,151.32 153.14,148.70 156.54,146.14 159.94,143.63 163.34,141.18 166.74,138.79 170.13,136.45 173.53,134.17 176.93,131.95 180.33,129.79 183.72,127.69 187.12,125.64 190.52,123.65 193.92,121.72 197.32,119.85 200.71,118.03 204.11,116.27 207.51,114.57 210.91,112.93 214.31,111.34 217.70,109.82 221.10,108.35 224.50,106.93 227.90,105.58 231.29,104.28 234.69,103.04 238.09,101.86 241.49,100.74 244.89,99.67 248.28,98.66 251.68,97.71 255.08,96.82 258.48,95.98 261.88,95.20 265.27,94.48 268.67,93.82 272.07,93.21 275.47,92.67 278.87,92.18 282.26,91.74 285.66,91.37 289.06,91.05 292.46,90.79 295.85,90.59 299.25,90.45 302.65,90.36 306.05,90.33 309.45,90.36 312.84,90.45 316.24,90.59 319.64,90.79 323.04,91.05 326.44,91.37 329.83,91.74 333.23,92.18 336.63,92.67 340.03,93.21 343.42,93.82 346.82,94.48 350.22,95.20 353.62,95.98 357.02,96.82 360.41,97.71 363.81,98.66 367.21,99.67 370.61,100.74 374.00,101.86 377.40,103.04 380.80,104.28 384.20,105.58 387.60,106.93 390.99,108.35 394.39,109.82 397.79,111.34 401.19,112.93 404.59,114.57 407.98,116.27 411.38,118.03 414.78,119.85 418.18,121.72 421.57,123.65 424.97,125.64 428.37,127.69 431.77,129.79 435.17,131.95 438.56,134.17 441.96,136.45 445.36,138.79 448.76,141.18 452.16,143.63 455.55,146.14 458.95,148.70 462.35,151.32 465.75,154.00 469.14,156.74 472.54,159.54 475.94,162.39 479.34,165.30 482.74,168.27 486.13,171.30 489.53,174.38 492.93,177.53 496.33,180.72 499.73,183.98 503.12,187.30 506.52,190.67 509.92,194.10 513.32,197.59 516.71,201.13 520.11,204.74 523.51,208.40 526.91,212.11 530.31,215.89 533.70,219.72 537.10,223.62" fill="none" stroke-width="0.8"/></g>
<g stroke="#0000ff" stroke-width="0.8" fill="rgba(0,0,255,0.2)"><circle cx="74.99" cy="223.62" r="1.75"/><circle cx="78.39" cy="219.72" r="1.75"/><circle cx="81.79" cy="215.89" r="1.75"/><circle cx="85.19" cy="212.11" r="1.75"/><circle cx="88.58" cy="208.40" r="1.75"/><circle cx="91.98" cy="204.74" r="1.75"/><circle cx="95.38" cy="201.13" r="1.75"/><circle cx="98.78" cy="197.59" r="1.75"/><circle cx="102.18" cy="194.10" r="1.75"/><circle cx="105.57" cy="190.67" r="1.75"/><circle cx="108.97" cy="187.30" r="1.75"/><circle cx="112.37" cy="183.98" r="1.75"/><circle cx="115.77" cy="180.72" r="1.75"/><circle cx="119.17" cy="177.53" r="1.75"/><circle cx="122.56" cy="174.38" r="1.75"/><circle cx="125.96" cy="171.30" r="1.75"/><circle cx="129.36" cy="168.27" r="1.75"/><circle cx="132.76" cy="165.30" r="1.75"/><circle cx="136.15" cy="162.39" r="1.75"/><circle cx="139.55" cy="159.54" r="1.75"/><circle cx="142.95" cy="156.74" r="1.75"/><circle cx="146.35" cy="154.00" r="1.75"/><circle cx="149.75" cy="151.32" r="1.75"/><circle cx="153.14" cy="148.70" r="1.75"/><circle cx="156.54" cy="146.14" r="1.75"/><circle cx="159.94" cy="143.63" r="1.75"/><circle cx="163.34" cy="141.18" r="1.75"/><circle cx="166.74" cy="138.79" r="1.75"/><circle cx="170.13" cy="136.45" r="1.75"/><circle cx="173.53" cy="134.17" r="1.75"/><circle cx="176.93" cy="131.95" r="1.75"/><circle cx="180.33" cy="129.79" r="1.75"/><circle cx="183.72" cy="127.69" r="1.75"/><circle cx="187.12" cy="125.64" r="1.75"/><circle cx="190.52" cy="123.65" r="1.75"/><circle cx="193.92" cy="121.72" r="1.75"/><circle cx="197.32" cy="119.85" r="1.75"/><circle cx="200.71" cy="118.03" r="1.75"/><circle cx="204.11" cy="116.27" r="1.75"/><circle cx="207.51" cy="114.57" r="1.75"/><circle cx="210.91" cy="112.93" r="1.75"/><circle cx="214.31" cy="111.34" r="1.75"/><circle cx="217.70" cy="109.82" r="1.75"/><circle cx="221.10" cy="108.35" r="1.75"/><circle cx="224.50" cy="106.93" r="1.75"/><circle cx="227.90" cy="105.58" r="1.75"/><circle cx="231.29" cy="104.28" r="1.75"/><circle cx="234.69" cy="103.04" r="1.75"/><circle cx="238.09" cy="101.86" r="1.75"/><circle cx="241.49" cy="100.74" r="1.75"/><circle cx="244.89" cy="99.67" r="1.75"/><circle cx="248.28" cy="98.66" r="1.75"/><circle cx="251.68" cy="97.71" r="1.75"/><circle cx="255.08" cy="96.82" r="1.75"/><circle cx="258.48" cy="95.98" r="1.75"/><circle cx="261.88" cy="95.20" r="1.75"/><circle cx="265.27" cy="94.48" r="1.75"/><circle cx="268.67" cy="93.82" r="1.75"/><circle cx="272.07" cy="93.21" r="1.75"/><circle cx="275.47" cy="92.67" r="1.75"/><circle cx="278.87" cy="92.18" r="1.75"/><circle cx="282.26" cy="91.74" r="1.75"/><circle cx="285.66" cy="91.37" r="1.75"/><circle cx="289.06" cy="91.05" r="1.75"/><circle cx="292.46" cy="90.79" r="1.75"/><circle cx="295.85" cy="90.59" r="1.75"/><circle cx="299.25" cy="90.45" r="1.75"/><circle cx="302.65" cy="90.36" r="1.75"/><circle cx="306.05" cy="90.33" r="1.75"/><circle cx="309.45" cy="90.36" r="1.75"/><circle cx="312.84" cy="90.45" r="1.75"/><circle cx="316.24" cy="90.59" r="1.75"/><circle cx="319.64" cy="90.79" r="1.75"/><circle cx="323.04" cy="91.05" r="1.75"/><circle cx="326.44" cy="91.37" r="1.75"/><circle cx="329.83" cy="91.74" r="1.75"/><circle cx="333.23" cy="92.18" r="1.75"/><circle cx="336.63" cy="92.67" r="1.75"/><circle cx="340.03" cy="93.21" r="1.75"/><circle cx="343.42" cy="93.82" r="1.75"/><circle cx="346.82" cy="94.48" r="1.75"/><circle cx="350.22" cy="95.20" r="1.75"/><circle cx="353.62" cy="95.98" r="1.75"/><circle cx="357.02" cy="96.82" r="1.75"/><circle cx="360.41" cy="97.71" r="1.75"/><circle cx="363.81" cy="98.66" r="1.75"/><circle cx="367.21" cy="99.67" r="1.75"/><circle cx="370.61" cy="100.74" r="1.75"/><circle cx="374.00" cy="101.86" r="1.75"/><circle cx="377.40" cy="103.04" r="1.75"/><circle cx="380.80" cy="104.28" r="1.75"/><circle cx="384.20" cy="105.58" r="1.75"/><circle cx="387.60" cy="106.93" r="1.75"/><circle cx="390.99" cy="108.35" r="1.75"/><circle cx="394.39" cy="109.82" r="1.75"/><circle cx="397.79" cy="111.34" r="1.75"/><circle cx="401.19" cy="112.93" r="1.75"/><circle cx="404.59" cy="114.57" r="1.75"/><circle cx="407.98" cy="116.27" r="1.75"/><circle cx="411.38" cy="118.03" r="1.75"/><circle cx="414.78" cy="119.85" r="1.75"/><circle cx="418.18" cy="121.72" r="1.75"/><circle cx="421.57" cy="123.65" r="1.75"/><circle cx="424.97" cy="125.64" r="1.75"/><circle cx="428.37" cy="127.69" r="1.75"/><circle cx="431.77" cy="129.79" r="1.75"/><circle cx="435.17" cy="131.95" r="1.75"/><circle cx="438.56" cy="134.17" r="1.75"/><circle cx="441.96" cy="136.45" r="1.75"/><circle cx="445.36" cy="138.79" r="1.75"/><circle cx="448.76" cy="141.18" r="1.75"/><circle cx="452.16" cy="143.63" r="1.75"/><circle cx="455.55" cy="146.14" r="1.75"/><circle cx="458.95" cy="148.70" r="1.75"/><circle cx="462.35" cy="151.32" r="1.75"/><circle cx="465.75" cy="154.00" r="1.75"/><circle cx="469.14" cy="156.74" r="1.75"/><circle cx="472.54" cy="159.54" r="1.75"/><circle cx="475.94" cy="162.39" r="1.75"/><circle cx="479.34" cy="165.30" r="1.75"/><circle cx="482.74" cy="168.27" r="1.75"/><circle cx="486.13" cy="171.30" r="1.75"/><circle cx="489.53" cy="174.38" r="1.75"/><circle cx="492.93" cy="177.53" r="1.75"/><circle cx="496.33" cy="180.72" r="1.75"/><circle cx="499.73" cy="183.98" r="1.75"/><circle cx="503.12" cy="187.30" r="1.75"/><circle cx="506.52" cy="190.67" r="1.75"/><circle cx="509.92" cy="194.10" r="1.75"/><circle cx="513.32" cy="197.59" r="1.75"/><circle cx="516.71" cy="201.13" r="1.75"/><circle cx="520.11" cy="204.74" r="1.75"/><circle cx="523.51" cy="208.40" r="1.75"/><circle cx="526.91" cy="212.11" r="1.75"/><circle cx="530.31" cy="215.89" r="1.75"/><circle cx="533.70" cy="219.72" r="1.75"/><circle cx="537.10" cy="223.62" r="1.75"/><polyline points="74.99,223.62 78.39,219.72 81.79,215.89 85.19,212.11 88.58,208.40 91.98,204.74 95.38,201.13 98.78,197.59 102.18,194.10 105.57,190.67 108.97,187.30 112.37,183.98 115.77,180.72 119.17,177.53 122.56,174.38 125.96,171.30 129.36,168.27 132.76,165.30 136.15,162.39 139.55,159.54 142.95,156.74 146.35,154.00 149.75,151.32 153.14,148.70 156.54,146.14 159.94,143.63 163.34,141.18 166.74,138.79 170.13,136.45 173.53,134.17 176.93,131.95 180.33,129.79 183.72,127.69 187.12,125.64 190.52,123.65 193.92,121.72 197.32,119.85 200.71,118.03 204.11,116.27 207.51,114.57 210.91,112.93 214.31,111.34 217.70,109.82 221.10,108.35 224.50,106.93 227.90,105.58 231.29,104.28 234.69,103.04 238.09,101.86 241.49,100.74 244.89,99.67 248.28,98.66 251.68,97.71 255.08,96.82 258.48,95.98 261.88,95.20 265.27,94.48 268.67,93.82 272.07,93.21 275.47,92.67 278.87,92.18 282.26,91.74 285.66,91.37 289.06,91.05 292.46,90.79 295.85,90.59 299.25,90.45 302.65,90.36 306.05,90.33 309.45,90.36 312.84,90.45 316.24,90.59 319.64,90.79 323.04,91.05 326.44,91.37 329.83,91.74 333.23,92.18 336.63,92.67 340.03,93.21 343.42,93.82 346.82,94.48 350.22,95.20 353.62,95.98 357.02,96.82 360.41,97.71 363.81,98.66 367.21,99.67 370.61,100.74 374.00,101.86 377.40,103.04 380.80,104.28 384.20,105.58 387.60,106.93 390.99,108.35 394.39,109.82 397.79,111.34 401.19,112.93 404.59,114.57 407.98,116.27 411.38,118.03 414.78,119.85 418.18,121.72 421.57,123.65 424.97,125.64 428.37,127.69 431.77,129.79 435.17,131.95 438.56,134.17 441.96,136.45 445.36,138.79 448.76,141.18 452.16,143.63 455.55,146.14 458.95,148.70 462.35,151.32 465.75,154.00 469.14,156.74 472.54,159.54 475.94,162.39 479.34,165.30 482.74,168.27 486.13,171.30 489.53,174.38 492.93,177.53 496.33,180.72 499.73,183.98 503.12,187.30 506.52,190.67 509.92,194.10 513.32,197.59 516.71,201.13 520.11,204.74 523.51,208.40 526.91,212.11 530.31,215.89 533.70,219.72 537.10,223.62" fill="none" stroke-width="0.7"/></g>
</g>
<g stroke="#262626" stroke-width="0.65" fill="none">
<rect x="64.8" y="75.4" width="475.7" height="148.7"/>
<path d="M132.76 224.1v-4.9M132.76 75.4v4.9"/>
<path d="M200.71 224.1v-4.9M200.71 75.4v4.9"/>
<path d="M268.67 224.1v-4.9M268.67 75.4v4.9"/>
<path d="M336.63 224.1v-4.9M336.63 75.4v4.9"/>
<path d="M404.59 224.1v-4.9M404.59 75.4v4.9"/>
<path d="M472.54 224.1v-4.9M472.54 75.4v4.9"/>
<path d="M64.8 223.70h4.9M540.5 223.70h-4.9"/>
<path d="M64.8 181.28h4.9M540.5 181.28h-4.9"/>
<path d="M64.8 138.86h4.9M540.5 138.86h-4.9"/>
<path d="M64.8 96.44h4.9M540.5 96.44h-4.9"/>
</g>
<g fill="#262626" font-size="13.9">
<text transform="translate(65.30,240.20) scale(0.92,1)" text-anchor="middle">0</text>
<text transform="translate(133.26,240.20) scale(0.92,1)" text-anchor="middle">10</text>
<text transform="translate(201.21,240.20) scale(0.92,1)" text-anchor="middle">20</text>
<text transform="translate(269.17,240.20) scale(0.92,1)" text-anchor="middle">30</text>
<text transform="translate(337.13,240.20) scale(0.92,1)" text-anchor="middle">40</text>
<text transform="translate(405.09,240.20) scale(0.92,1)" text-anchor="middle">50</text>
<text transform="translate(473.04,240.20) scale(0.92,1)" text-anchor="middle">60</text>
<text transform="translate(541.00,240.20) scale(0.92,1)" text-anchor="middle">70</text>
<text transform="translate(60.80,228.60) scale(0.92,1)" text-anchor="end">-5000</text>
<text transform="translate(60.80,186.18) scale(0.92,1)" text-anchor="end">-4000</text>
<text transform="translate(60.80,143.76) scale(0.92,1)" text-anchor="end">-3000</text>
<text transform="translate(60.80,101.34) scale(0.92,1)" text-anchor="end">-2000</text>
</g>
<text transform="translate(302.7,258.4) scale(0.93,1)" font-size="16" fill="#262626" text-anchor="middle"><tspan font-style="italic">α</tspan>/<tspan dx="0.9">′</tspan></text>
<text transform="translate(13.5,150.8) rotate(-90) scale(1,0.96)" font-size="15.3" fill="#262626" text-anchor="middle"><tspan font-style="italic">U</tspan>/mV</text>
<rect x="132.4" y="4.8" width="341.0" height="68.5" fill="#fff" stroke="#262626" stroke-width="0.6"/>
<g font-size="12.1" fill="#000" stroke="#000" stroke-width="0.22">
<text transform="translate(151.0,16.30) scale(0.955,1)">Static radial characteristic points</text>
<text transform="translate(322.6,16.30) scale(0.955,1)">Static radial characteristic curve</text>
<circle cx="142.0" cy="12.35" r="1.4" fill="#000" stroke="none"/>
<path d="M305.6 12.35H321.4" stroke="#000" stroke-width="0.55" fill="none"/>
<text transform="translate(151.0,29.70) scale(0.955,1)">RBF model prediction points</text>
<text transform="translate(322.6,29.70) scale(0.955,1)">RBF model prediction curve</text>
<circle cx="142.0" cy="25.75" r="1.6" fill="none" stroke="#ff00ff" stroke-width="0.75"/>
<path d="M305.6 25.75H321.4" stroke="#ff00ff" stroke-width="0.55" fill="none"/>
<text transform="translate(151.0,43.10) scale(0.955,1)">Kriging model prediction points</text>
<text transform="translate(322.6,43.10) scale(0.955,1)">Kriging model prediction curve</text>
<circle cx="142.0" cy="39.15" r="1.6" fill="none" stroke="#ff0000" stroke-width="0.75"/>
<path d="M305.6 39.15H321.4" stroke="#ff0000" stroke-width="0.55" fill="none"/>
<text transform="translate(151.0,56.50) scale(0.955,1)">BP model prediction points</text>
<text transform="translate(322.6,56.50) scale(0.955,1)">BP model prediction curve</text>
<circle cx="142.0" cy="52.55" r="1.6" fill="none" stroke="#00ffff" stroke-width="0.75"/>
<path d="M305.6 52.55H321.4" stroke="#00ffff" stroke-width="0.55" fill="none"/>
<text transform="translate(151.0,69.50) scale(0.955,1)">Polynomial fit prediction points</text>
<text transform="translate(322.6,69.50) scale(0.955,1)">Polynomial fit prediction curve</text>
<circle cx="142.0" cy="65.55" r="1.6" fill="none" stroke="#0000ff" stroke-width="0.75"/>
<path d="M305.6 65.55H321.4" stroke="#0000ff" stroke-width="0.55" fill="none"/>
</g>
</svg></body></html>
